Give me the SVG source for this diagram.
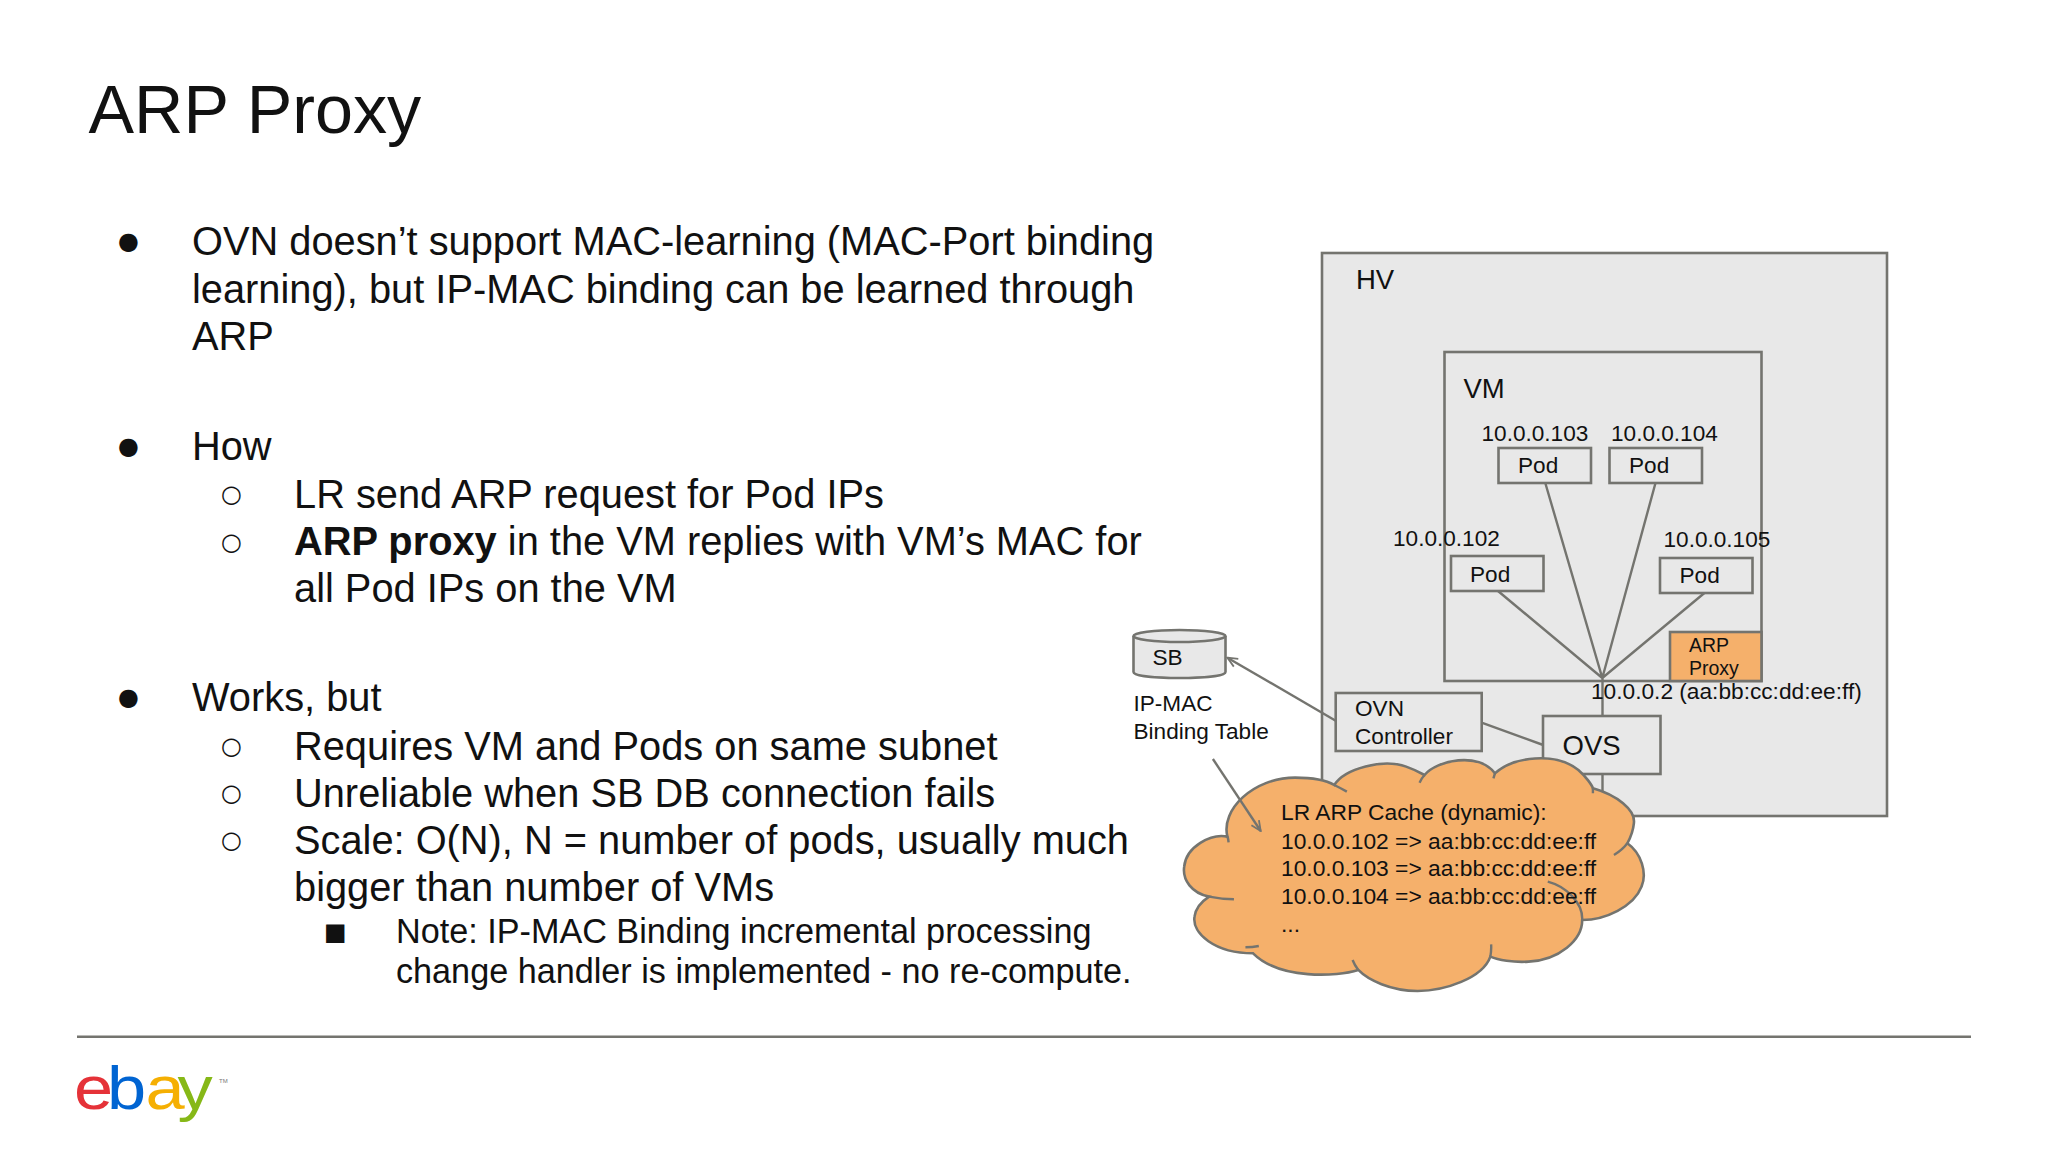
<svg xmlns="http://www.w3.org/2000/svg" width="2048" height="1152" viewBox="0 0 2048 1152">
<defs>
<marker id="open" viewBox="0 0 12 12" refX="11" refY="6" markerWidth="12" markerHeight="12" markerUnits="userSpaceOnUse" orient="auto"><path d="M1 1.5L11 6L1 10.500" fill="none" stroke="#74746f" stroke-width="1.8"/></marker>
</defs>
<style>
text{font-family:"Liberation Sans",Arial,sans-serif;fill:#111}
.b{fill:#e8e8e8;stroke:#74746f;stroke-width:2.6}
.l{fill:none;stroke:#74746f;stroke-width:2.4}
.o{fill:#f5b06b;stroke:#74746f;stroke-width:2.6}
.s{font-size:22.6px}
.c{font-size:22.8px}
.m{font-size:27.5px}
.t{font-size:39.8px}
.n{font-size:34.2px}
.d{font-family:"DejaVu Sans",sans-serif;font-size:24px}
</style>
<rect width="2048" height="1152" fill="#fff"/>
<g id="slide-text">
<text x="88.500" y="133" font-size="68.300">ARP Proxy</text>
<text class="d" x="118" y="249">●</text>
<text class="t" x="192" y="255">OVN doesn’t support MAC-learning (MAC-Port binding</text>
<text class="t" x="192" y="303">learning), but IP-MAC binding can be learned through</text>
<text class="t" x="192" y="350">ARP</text>
<text class="d" x="118" y="454">●</text>
<text class="t" x="192" y="460">How</text>
<text class="d" x="221" y="502">○</text>
<text class="t" x="294" y="508">LR send ARP request for Pod IPs</text>
<text class="d" x="221" y="550">○</text>
<text class="t" x="294" y="555"><tspan font-weight="700">ARP proxy</tspan> in the VM replies with VM’s MAC for</text>
<text class="t" x="294" y="602">all Pod IPs on the VM</text>
<text class="d" x="118" y="705">●</text>
<text class="t" x="192" y="711">Works, but</text>
<text class="d" x="221" y="754">○</text>
<text class="t" x="294" y="760">Requires VM and Pods on same subnet</text>
<text class="d" x="221" y="801">○</text>
<text class="t" x="294" y="807">Unreliable when SB DB connection fails</text>
<text class="d" x="221" y="848">○</text>
<text class="t" x="294" y="854">Scale: O(N), N = number of pods, usually much</text>
<text class="t" x="294" y="901">bigger than number of VMs</text>
<text class="d" x="324" y="940">■</text>
<text class="n" x="396" y="942.500">Note: IP-MAC Binding incremental processing</text>
<text class="n" x="396" y="983">change handler is implemented - no re-compute.</text>
</g>
<g id="hv"><rect class="b" x="1322" y="253" width="565" height="563"/><text class="m" x="1356" y="289">HV</text></g>
<g id="vm"><rect class="b" x="1444.500" y="352" width="317" height="329"/><text class="m" x="1463.500" y="398">VM</text></g>
<g id="arp-proxy"><rect class="o" x="1670" y="632" width="91.500" height="49"/><text x="1689" y="651.500" font-size="19.500">ARP</text><text x="1689" y="675" font-size="19.500">Proxy</text></g>
<g id="connectors">
<path class="l" d="M1545.300 483L1602.300 678M1655.500 483L1602.300 678M1498 591L1602.300 678M1705 592.500L1602.300 678M1602.500 678V716M1602.500 774V810M1481.600 722.700L1543.200 745"/>
<path class="l" d="M1335.700 720.700L1227.400 657.700" marker-end="url(#open)"/>
</g>
<g id="pod-102"><rect class="b" x="1451" y="556" width="92.500" height="35"/><text class="s" x="1470" y="582">Pod</text></g>
<g id="pod-103"><rect class="b" x="1498.500" y="448" width="92.500" height="35"/><text class="s" x="1518" y="473">Pod</text></g>
<g id="pod-104"><rect class="b" x="1609.500" y="448" width="92.500" height="35"/><text class="s" x="1629" y="473">Pod</text></g>
<g id="pod-105"><rect class="b" x="1660" y="558" width="92.500" height="35"/><text class="s" x="1679.500" y="583">Pod</text></g>
<g id="pod-labels">
<text class="s" x="1393" y="545.500">10.0.0.102</text>
<text class="s" x="1481.500" y="440.500">10.0.0.103</text>
<text class="s" x="1611" y="440.500">10.0.0.104</text>
<text class="s" x="1663.500" y="547">10.0.0.105</text>
<text class="s" x="1591" y="699" style="font-size:22.7px">10.0.0.2 (aa:bb:cc:dd:ee:ff)</text>
</g>
<g id="ovn-controller"><rect class="b" x="1335.700" y="693" width="146" height="58"/><text class="s" x="1355" y="716">OVN</text><text class="s" x="1355" y="744">Controller</text></g>
<g id="ovs"><rect class="b" x="1543" y="716" width="117.500" height="58"/><text class="m" x="1562.500" y="755">OVS</text></g>
<g id="sb">
<path class="b" d="M1133.500 636V672C1133.500 680 1225.500 680 1225.500 672V636"/>
<ellipse cx="1179.500" cy="636" rx="46" ry="6" class="b"/>
<text class="s" x="1152.500" y="665">SB</text>
<text class="s" x="1133.500" y="711">IP-MAC</text>
<text class="s" x="1133.500" y="739">Binding Table</text>
</g>
<g id="lr-arp-cache">
<g transform="translate(1100 610) scale(.3827 .3333)">
<path fill="#f5b06b" stroke="#74746f" stroke-width="2.6" vector-effect="non-scaling-stroke" d="M333 680C315 600 400 503 510 503C550 503 590 510 612 525C640 475 740 445 800 470C820 478 840 490 848 495C880 450 990 425 1032 490C1080 440 1190 425 1250 480C1270 500 1285 525 1288 535C1350 555 1400 600 1395 640C1393 665 1385 685 1378 700C1415 730 1430 790 1415 830C1395 890 1320 930 1260 930C1260 990 1200 1050 1120 1055C1080 1058 1040 1050 1020 1040C1000 1105 900 1143 830 1143C760 1143 700 1110 675 1080C620 1100 470 1110 400 1030C300 1030 240 970 247 920C250 895 265 875 285 860C240 850 215 810 220 770C225 710 290 670 333 680Z"/>
<path fill="none" stroke="#74746f" stroke-width="2.4" vector-effect="non-scaling-stroke" d="M333 680Q335 685 336 697M612 525Q630 535 645 545M848 495Q840 505 835 518M1032 490L1028 505M1288 535L1288 550M1378 700Q1365 720 1343 735M1170 815C1220 830 1262 880 1260 930M1020 1040Q1023 1020 1022 1003M675 1080Q665 1065 660 1050M380 1012Q398 1012 415 1008M285 860Q320 868 350 868"/>
</g>
<text class="c" x="1281" y="820">LR ARP Cache (dynamic):</text>
<text class="c" x="1281" y="848.500">10.0.0.102 =&gt; aa:bb:cc:dd:ee:ff</text>
<text class="c" x="1281" y="876">10.0.0.103 =&gt; aa:bb:cc:dd:ee:ff</text>
<text class="c" x="1281" y="904">10.0.0.104 =&gt; aa:bb:cc:dd:ee:ff</text>
<text class="c" x="1281" y="931.700">...</text>
</g>
<path class="l" d="M1212.900 759L1260.700 831" marker-end="url(#open)"/>
<g id="footer">
<path d="M77 1036.700H1971" stroke="#74746f" stroke-width="2.600" fill="none"/>
<text transform="translate(74 1109) scale(1.1 .95)" font-size="64"><tspan x="0" style="fill:#e53238">e</tspan><tspan x="30" style="fill:#0064d2">b</tspan><tspan x="65" style="fill:#f5af02">a</tspan><tspan x="94" style="fill:#86b817">y</tspan></text>
<text x="219" y="1083" font-size="6" style="fill:#777">TM</text>
</g>
</svg>
